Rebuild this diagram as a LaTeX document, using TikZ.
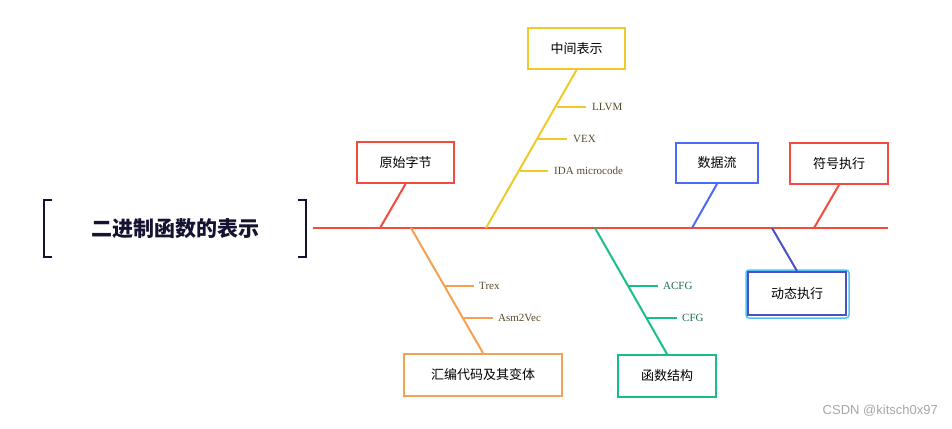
\documentclass[tikz,border=0pt]{standalone}
\usepackage{fontspec}
\setmainfont{Liberation Serif}
\newfontfamily\cjk{Noto Sans CJK SC}
\newfontfamily\wm{Liberation Sans}
\definecolor{cred}{HTML}{F44B3F}
\definecolor{cyel}{HTML}{F0C92A}
\definecolor{corg}{HTML}{F6A052}
\definecolor{cgrn}{HTML}{17BF82}
\definecolor{cblu}{HTML}{4D6AF7}
\definecolor{cdyn}{HTML}{4F4FC4}
\definecolor{ccya}{HTML}{4FC3F7}
\definecolor{ctxt}{HTML}{5A4A2A}
\definecolor{cgtx}{HTML}{1A6A55}
\begin{document}
\begin{tikzpicture}[x=1pt,y=-1pt,
  box/.style={draw=#1,line width=2pt,fill=white,inner sep=0pt,font=\cjk\fontsize{13}{13}\selectfont},
  br/.style={draw=#1,line width=2pt},
  tk/.style={draw=#1,line width=1.5pt},
  lbl/.style={anchor=west,font=\fontsize{11}{11}\selectfont,text=ctxt,inner sep=0pt}]
\useasboundingbox (0,0) rectangle (952,428);
% spine
\coordinate (s0) at (313,228); \coordinate (s1) at (888,228);
\draw[cred,line width=2pt] (s0) -- (s1);
% title with brackets
\draw[line width=2pt,color={rgb,255:red,20;green,20;blue,50}] (52,200) -- (44,200) -- (44,257) -- (52,257);
\draw[line width=2pt,color={rgb,255:red,20;green,20;blue,50}] (298,200) -- (306,200) -- (306,257) -- (298,257);
\node[font=\cjk\bfseries\fontsize{21}{21}\selectfont,text={rgb,255:red,20;green,20;blue,50}] (title) at (175,229) {二进制函数的表示};
% boxes
\node[box=cred,minimum width=97pt,minimum height=41pt] (yszj) at (405.5,162.5) {原始字节};
\node[box=cyel,minimum width=97pt,minimum height=41pt] (zjbs) at (576.5,48.5) {中间表示};
\node[box=cblu,minimum width=82pt,minimum height=40pt] (sjl) at (717,163) {数据流};
\node[box=cred,minimum width=98pt,minimum height=41pt] (fhzx) at (839,163.5) {符号执行};
\node[box=corg,minimum width=158pt,minimum height=42pt] (hbdm) at (483,375) {汇编代码及其变体};
\node[box=cgrn,minimum width=98pt,minimum height=42pt] (hsjg) at (667,376) {函数结构};
\node[draw=ccya,line width=1.5pt,rounded corners=3pt,minimum width=103pt,minimum height=48pt,inner sep=0pt] (dtout) at (797.5,294) {};
\node[box=cdyn,minimum width=98pt,minimum height=43pt] (dtzx) at (797,293.5) {动态执行};
% branch roots
\coordinate (r1) at (380,228); \coordinate (r2) at (486,228);
\coordinate (r3) at (692,228); \coordinate (r4) at (814,228);
\coordinate (r5) at (411,228); \coordinate (r6) at (595,228);
\coordinate (r7) at (772,228);
\draw[br=cred] (r1) -- (yszj.south);
\draw[br=cyel] (r2) -- (zjbs.south);
\draw[br=cblu] (r3) -- (sjl.south);
\draw[br=cred] (r4) -- (fhzx.south);
\draw[br=corg] (r5) -- (hbdm.north);
\draw[br=cgrn] (r6) -- (hsjg.north);
\draw[br=cdyn] (r7) -- (dtzx.north);
% sub labels
\node[lbl] (llvm) at (592,107) {LLVM};
\node[lbl] (vex) at (573,139) {VEX};
\node[lbl] (ida) at (554,171) {IDA microcode};
\coordinate (t1) at (557,107); \coordinate (t2) at (538,139); \coordinate (t3) at (520,171);
\draw[tk=cyel] (t1) -- ([xshift=-6pt]llvm.west);
\draw[tk=cyel] (t2) -- ([xshift=-6pt]vex.west);
\draw[tk=cyel] (t3) -- ([xshift=-6pt]ida.west);
\node[lbl] (trex) at (479,286) {Trex};
\node[lbl] (asm) at (498,318) {Asm2Vec};
\coordinate (t4) at (444,286); \coordinate (t5) at (463,318);
\draw[tk=corg] (t4) -- ([xshift=-5pt]trex.west);
\draw[tk=corg] (t5) -- ([xshift=-5pt]asm.west);
\node[lbl,text=cgtx] (acfg) at (663,286) {ACFG};
\node[lbl,text=cgtx] (cfg) at (682,318) {CFG};
\coordinate (t6) at (629,286); \coordinate (t7) at (647,318);
\draw[tk=cgrn] (t6) -- ([xshift=-5pt]acfg.west);
\draw[tk=cgrn] (t7) -- ([xshift=-5pt]cfg.west);
\node[anchor=east,font=\wm\fontsize{13}{13}\selectfont,text=gray!70,inner sep=0pt] (wm) at (938,411) {CSDN @kitsch0x97};
\end{tikzpicture}
\end{document}
